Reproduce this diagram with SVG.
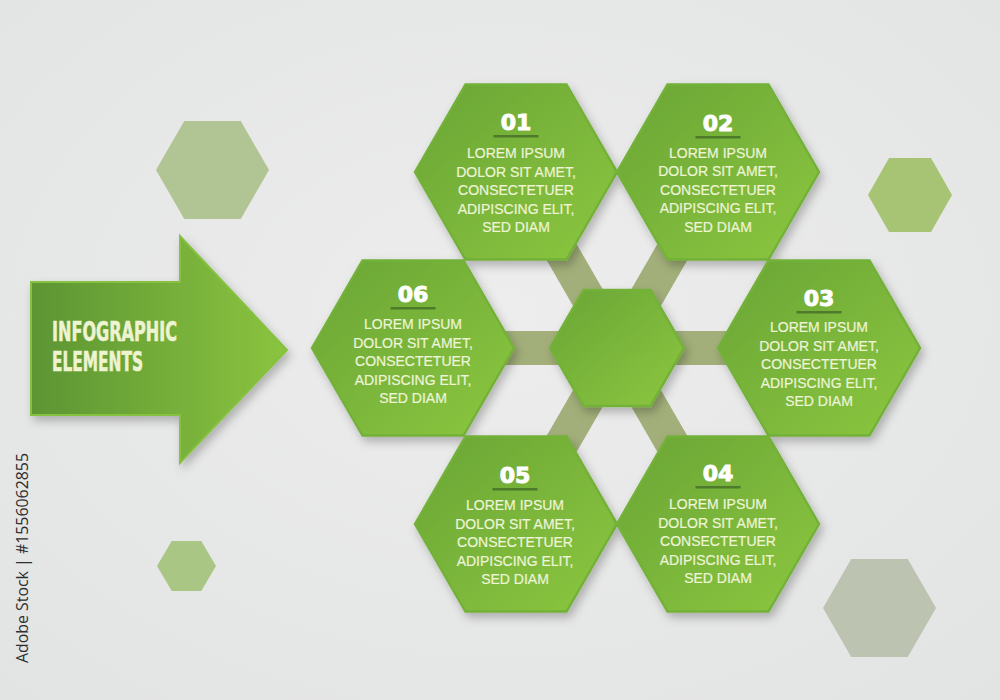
<svg xmlns="http://www.w3.org/2000/svg" width="1000" height="700" viewBox="0 0 1000 700">
<defs>
<linearGradient id="hexg" x1="0" y1="0" x2="1" y2="1">
<stop offset="0" stop-color="#69a535"/>
<stop offset="1" stop-color="#8cc740"/>
</linearGradient>
<linearGradient id="arrg" x1="0" y1="0" x2="1" y2="0">
<stop offset="0" stop-color="#5c9533"/>
<stop offset="1" stop-color="#8bc43f"/>
</linearGradient>
<radialGradient id="bgg" cx="0.5" cy="0.45" r="0.75">
<stop offset="0" stop-color="#ededed"/>
<stop offset="1" stop-color="#e2e3e3"/>
</radialGradient>
<filter id="sh" x="-20%" y="-20%" width="150%" height="150%">
<feDropShadow dx="3" dy="5" stdDeviation="5" flood-color="#000" flood-opacity="0.25"/>
</filter>
</defs>
<style>
.hex{fill:url(#hexg);stroke:#73b139;stroke-width:2.5;filter:url(#sh)}
.deco{stroke:none}
.band{fill:#a2af7a}
.num{font-family:"DejaVu Sans","Liberation Sans",sans-serif;font-weight:bold;font-size:22px;fill:#ffffff;stroke:#ffffff;stroke-width:1;text-anchor:middle}
.bar{fill:#4d7a2b}
.body{font-family:"Liberation Sans",Arial,sans-serif;font-size:14px;fill:#eef4d8;stroke:#eef4d8;stroke-width:0.2;text-anchor:middle}
.title{font-family:"Liberation Sans Narrow","DejaVu Sans Condensed","Liberation Sans",sans-serif;font-weight:bold;font-size:26px;fill:#eef3d2;stroke:#eef3d2;stroke-width:0.6}
.wm{font-family:"Open Sans","DejaVu Sans",sans-serif;font-size:17px;fill:#2e2e2e}
</style>
<rect x="0" y="0" width="1000" height="700" fill="url(#bgg)"/>

<g id="decor">
<polygon class="deco" fill="#b1c594" points="156,170 184.25,121 240.75,121 269,170 240.75,219 184.25,219"/>
<polygon class="deco" fill="#a6c473" points="868,195 889,158 931,158 952,195 931,232 889,232"/>
<polygon class="deco" fill="#a9c685" points="157,566 171.75,541 201.25,541 216,566 201.25,591 171.75,591"/>
<polygon class="deco" fill="#bcc3b0" points="823,608 851.25,559 907.75,559 936,608 907.75,657 851.25,657"/>
</g>

<g id="connectors">
<rect class="band" x="413" y="331" width="406" height="34"/>
<rect class="band" x="414.5" y="331" width="405" height="34" transform="rotate(60 617 348)"/>
<rect class="band" x="414.5" y="331" width="405" height="34" transform="rotate(-60 617 348)"/>
</g>

<g id="arrow">
<path d="M31,282 H180 V236 L287,350 L180,463 V415 H31 Z" fill="url(#arrg)" stroke="#86c140" stroke-width="2" filter="url(#sh)"/>
<text class="title" x="52" y="341" textLength="125" lengthAdjust="spacingAndGlyphs">INFOGRAPHIC</text>
<text class="title" x="52" y="371" textLength="91" lengthAdjust="spacingAndGlyphs">ELEMENTS</text>
</g>

<g id="center">
<polygon class="hex" points="550,348 583.5,290 650.5,290 684,348 650.5,406 583.5,406"/>
</g>

<g id="hex01">
<polygon class="hex" points="415,172 465.5,84.5 566.5,84.5 617,172 566.5,259.5 465.5,259.5"/>
<text class="num" x="516" y="130">01</text>
<rect class="bar" x="493.5" y="135" width="45" height="2.5"/>
<text class="body" x="516" y="158"><tspan x="516">LOREM IPSUM</tspan><tspan x="516" dy="18.5">DOLOR SIT AMET,</tspan><tspan x="516" dy="18.5">CONSECTETUER</tspan><tspan x="516" dy="18.5">ADIPISCING ELIT,</tspan><tspan x="516" dy="18.5">SED DIAM</tspan></text>
</g>

<g id="hex02">
<polygon class="hex" points="617,172 667.5,84.5 768.5,84.5 819,172 768.5,259.5 667.5,259.5"/>
<text class="num" x="718" y="131">02</text>
<rect class="bar" x="695.5" y="136" width="45" height="2.5"/>
<text class="body" x="718" y="157.5"><tspan x="718">LOREM IPSUM</tspan><tspan x="718" dy="18.5">DOLOR SIT AMET,</tspan><tspan x="718" dy="18.5">CONSECTETUER</tspan><tspan x="718" dy="18.5">ADIPISCING ELIT,</tspan><tspan x="718" dy="18.5">SED DIAM</tspan></text>
</g>

<g id="hex06">
<polygon class="hex" points="312,348 362.5,260.5 463.5,260.5 514,348 463.5,435.5 362.5,435.5"/>
<text class="num" x="413" y="302">06</text>
<rect class="bar" x="390.5" y="307" width="45" height="2.5"/>
<text class="body" x="413" y="329"><tspan x="413">LOREM IPSUM</tspan><tspan x="413" dy="18.5">DOLOR SIT AMET,</tspan><tspan x="413" dy="18.5">CONSECTETUER</tspan><tspan x="413" dy="18.5">ADIPISCING ELIT,</tspan><tspan x="413" dy="18.5">SED DIAM</tspan></text>
</g>

<g id="hex03">
<polygon class="hex" points="718,348 768.5,260.5 869.5,260.5 920,348 869.5,435.5 768.5,435.5"/>
<text class="num" x="819" y="306">03</text>
<rect class="bar" x="796.5" y="311" width="45" height="2.5"/>
<text class="body" x="819" y="332"><tspan x="819">LOREM IPSUM</tspan><tspan x="819" dy="18.5">DOLOR SIT AMET,</tspan><tspan x="819" dy="18.5">CONSECTETUER</tspan><tspan x="819" dy="18.5">ADIPISCING ELIT,</tspan><tspan x="819" dy="18.5">SED DIAM</tspan></text>
</g>

<g id="hex05">
<polygon class="hex" points="415,524 465.5,436.5 566.5,436.5 617,524 566.5,611.5 465.5,611.5"/>
<text class="num" x="515" y="483">05</text>
<rect class="bar" x="492.5" y="488" width="45" height="2.5"/>
<text class="body" x="515" y="510"><tspan x="515">LOREM IPSUM</tspan><tspan x="515" dy="18.5">DOLOR SIT AMET,</tspan><tspan x="515" dy="18.5">CONSECTETUER</tspan><tspan x="515" dy="18.5">ADIPISCING ELIT,</tspan><tspan x="515" dy="18.5">SED DIAM</tspan></text>
</g>

<g id="hex04">
<polygon class="hex" points="617,524 667.5,436.5 768.5,436.5 819,524 768.5,611.5 667.5,611.5"/>
<text class="num" x="718" y="481">04</text>
<rect class="bar" x="695.5" y="486" width="45" height="2.5"/>
<text class="body" x="718" y="509"><tspan x="718">LOREM IPSUM</tspan><tspan x="718" dy="18.5">DOLOR SIT AMET,</tspan><tspan x="718" dy="18.5">CONSECTETUER</tspan><tspan x="718" dy="18.5">ADIPISCING ELIT,</tspan><tspan x="718" dy="18.5">SED DIAM</tspan></text>
</g>

<g id="watermark">
<text class="wm" x="28" y="663" transform="rotate(-90 28 663)" textLength="210" lengthAdjust="spacingAndGlyphs">Adobe Stock | #1556062855</text>
</g>
</svg>
